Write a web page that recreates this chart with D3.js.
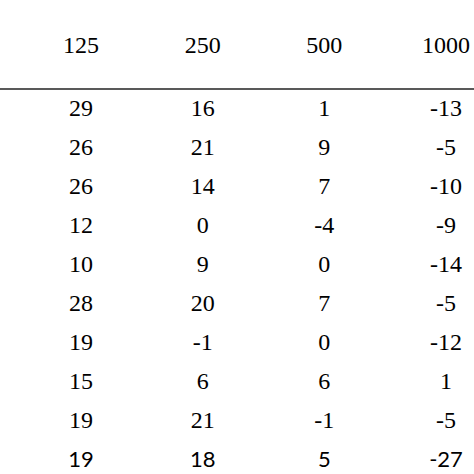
<!DOCTYPE html>
<html><head><meta charset="utf-8">
<script src="https://cdn.jsdelivr.net/npm/d3@7"></script>
<style>body{margin:0;background:#fff}</style>
</head><body><div id="chart"></div>
<script>
var columns = ['125', '250', '500', '1000'];
var col125 = [29, 26, 26, 12, 10, 28, 19, 15, 19, 19];
var col250 = [16, 21, 14, 0, 9, 20, -1, 6, 21, 18];
var col500 = [1, 9, 7, -4, 0, 7, 0, 6, -1, 5];
var col1000 = [-13, -5, -10, -9, -14, -5, -12, 1, -5, -27];

var width = 474, height = 474;
var serif = '"Liberation Serif", "Times New Roman", "DejaVu Serif", serif';
var svg = d3.select('#chart').append('svg')
  .attr('width', width).attr('height', height);

var x = d3.scalePoint().domain(columns).range([81, 446]);
var y = d3.scaleBand().domain(d3.range(col125.length)).range([88, 478]);

var data = [col125, col250, col500, col1000];

svg.selectAll('text.head')
  .data(columns)
  .enter().append('text')
    .attr('class', 'head')
    .attr('x', function(d){ return x(d); })
    .attr('y', 53)
    .attr('text-anchor', 'middle')
    .style('font-family', serif)
    .style('font-size', '24px')
    .text(function(d){ return d; });

svg.append('line')
  .attr('x1', 0).attr('x2', width)
  .attr('y1', 89).attr('y2', 89)
  .attr('stroke', '#222').attr('stroke-width', 1.5);

columns.forEach(function(c, ci){
  svg.selectAll('text.c' + ci)
    .data(data[ci])
    .enter().append('text')
      .attr('class', 'c' + ci)
      .attr('x', x(c))
      .attr('y', function(d, i){ return y(i) + y.bandwidth() / 2 + 8; })
      .attr('text-anchor', 'middle')
      .style('font-family', function(d, i){ return i === 9 ? 'Lato, sans-serif' : serif; })
      .style('font-size', function(d, i){ return i === 9 ? '22px' : '24px'; })
      .text(function(d){ return d; });
});
</script>
</body></html>
